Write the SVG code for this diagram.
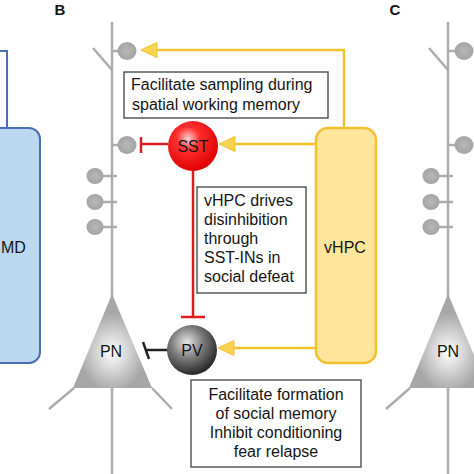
<svg xmlns="http://www.w3.org/2000/svg" width="474" height="474" viewBox="0 0 474 474">
<defs>
<radialGradient id="gSoma" cx="0.5" cy="0.62" r="0.42">
<stop offset="0" stop-color="#ffffff"/><stop offset="1" stop-color="#a6a6a6"/>
</radialGradient>
<radialGradient id="gSST" cx="0.4" cy="0.35" r="0.65">
<stop offset="0" stop-color="#ffd0d0"/><stop offset="0.35" stop-color="#ff3030"/><stop offset="1" stop-color="#e00000"/>
</radialGradient>
<radialGradient id="gPV" cx="0.4" cy="0.35" r="0.65">
<stop offset="0" stop-color="#e6e6e6"/><stop offset="0.5" stop-color="#7a7a7a"/><stop offset="1" stop-color="#2a2a2a"/>
</radialGradient>
<radialGradient id="gSpine" cx="0.5" cy="0.5" r="0.5">
<stop offset="0" stop-color="#b8b8b8"/><stop offset="1" stop-color="#a4a4a4"/>
</radialGradient>
</defs>
<style>
.den{stroke:#acacac;stroke-width:2.5;fill:none}
.sp{fill:url(#gSpine)}
.soma{fill:url(#gSoma)}
.ax{stroke:#f2c12e;stroke-width:2.5;fill:none}
.term{fill:#f8d350;stroke:#f2c12e;stroke-width:1}
.inh{stroke:#dd1c1c;stroke-width:2.5;fill:none}
.box{fill:#ffffff;stroke:#404040;stroke-width:1.3}
.t{font-family:"Liberation Sans",Arial,sans-serif;font-size:16px;fill:#151515}
.lbl{font-family:"Liberation Sans",Arial,sans-serif;font-size:15px;font-weight:bold;fill:#111}
</style>

<g id="panelA">
<path d="M0,51 H7 V128" stroke="#4a6fb5" stroke-width="2" fill="none"/>
<rect x="-20" y="128" width="60" height="235" rx="11" fill="#bcd8f0" stroke="#4a6fb5" stroke-width="2"/>
<text class="t" x="1" y="253">MD</text>
</g>

<text class="lbl" x="60" y="15" text-anchor="middle">B</text>
<text class="lbl" x="395" y="15" text-anchor="middle">C</text>

<g id="pnB">
<line class="den" x1="112" y1="22" x2="112" y2="300"/>
<line class="den" x1="93" y1="48" x2="112" y2="70"/>
<line class="den" x1="112" y1="51" x2="127" y2="51"/>
<line class="den" x1="112" y1="145" x2="127" y2="145"/>
<line class="den" x1="95" y1="176" x2="117" y2="176"/>
<line class="den" x1="95" y1="202" x2="117" y2="202"/>
<line class="den" x1="95" y1="227" x2="117" y2="227"/>
<ellipse class="sp" cx="127" cy="51" rx="9.5" ry="9"/>
<ellipse class="sp" cx="127" cy="145" rx="9.5" ry="9"/>
<ellipse class="sp" cx="95" cy="176" rx="8.5" ry="8"/>
<ellipse class="sp" cx="95" cy="202" rx="8.5" ry="8"/>
<ellipse class="sp" cx="95" cy="227" rx="8.5" ry="8"/>
<line class="den" x1="74" y1="388" x2="49" y2="409"/>
<line class="den" x1="152" y1="388" x2="172" y2="409"/>
<line class="den" x1="112" y1="388" x2="112" y2="474"/>
<polygon class="soma" points="112,294 152,388 73,388"/>
<text class="t" x="111" y="357" text-anchor="middle" font-size="16.5">PN</text>
</g>

<g id="pnC">
<line class="den" x1="448" y1="22" x2="448" y2="300"/>
<line class="den" x1="429" y1="48" x2="448" y2="70"/>
<line class="den" x1="448" y1="51" x2="463" y2="51"/>
<line class="den" x1="448" y1="145" x2="463" y2="145"/>
<line class="den" x1="431" y1="176" x2="453" y2="176"/>
<line class="den" x1="431" y1="202" x2="453" y2="202"/>
<line class="den" x1="431" y1="227" x2="453" y2="227"/>
<ellipse class="sp" cx="464" cy="51" rx="9.5" ry="9"/>
<ellipse class="sp" cx="464" cy="145" rx="9.5" ry="9"/>
<ellipse class="sp" cx="431" cy="176" rx="8.5" ry="8"/>
<ellipse class="sp" cx="431" cy="202" rx="8.5" ry="8"/>
<ellipse class="sp" cx="431" cy="227" rx="8.5" ry="8"/>
<line class="den" x1="410" y1="388" x2="386" y2="409"/>
<line class="den" x1="448" y1="388" x2="448" y2="474"/>
<polygon class="soma" points="448,294 488,388 409,388"/>
<text class="t" x="448" y="357" text-anchor="middle" font-size="16.5">PN</text>
</g>

<g id="connectors">
<path class="ax" d="M157,50 H344 V128"/>
<path class="ax" d="M235,144 H316"/>
<path class="ax" d="M233,348 H316"/>
<polygon class="term" points="141,50 157,42.5 157,57.5"/>
<polygon class="term" points="219,144 235,136.5 235,151.5"/>
<polygon class="term" points="218,348 234,340.5 234,355.5"/>
<line class="inh" x1="141" y1="144" x2="168" y2="144"/>
<line class="inh" x1="141" y1="137" x2="141" y2="153"/>
<line class="inh" x1="193" y1="170" x2="193" y2="317"/>
<line class="inh" x1="181" y1="317" x2="205" y2="317"/>
<line x1="147" y1="350" x2="168" y2="350" stroke="#222" stroke-width="2.5"/>
<line x1="143" y1="342" x2="149" y2="359" stroke="#222" stroke-width="2.5"/>
</g>

<g id="vHPC">
<rect x="316" y="128" width="60" height="235" rx="12" fill="#fde59c" stroke="#f2c12e" stroke-width="2.5"/>
<text class="t" x="345" y="253" text-anchor="middle">vHPC</text>
</g>

<g id="SST">
<circle cx="193" cy="146" r="25" fill="url(#gSST)"/>
<text class="t" x="193" y="152" text-anchor="middle">SST</text>
</g>

<g id="PV">
<circle cx="192" cy="350" r="25" fill="url(#gPV)"/>
<text class="t" x="192" y="356" text-anchor="middle">PV</text>
</g>

<g id="note1">
<rect class="box" x="124" y="72" width="204" height="46"/>
<text class="t" x="131" y="90">Facilitate sampling during</text>
<text class="t" x="132" y="110">spatial working memory</text>
</g>

<g id="note2">
<rect class="box" x="197" y="187" width="109" height="106"/>
<text class="t" x="204" y="206">vHPC drives</text>
<text class="t" x="204" y="225">disinhibition</text>
<text class="t" x="204" y="244">through</text>
<text class="t" x="204" y="263">SST-INs in</text>
<text class="t" x="204" y="282">social defeat</text>
</g>

<g id="note3">
<rect class="box" x="191" y="380" width="170" height="87"/>
<text class="t" x="276" y="400" text-anchor="middle">Facilitate formation</text>
<text class="t" x="276" y="419" text-anchor="middle">of social memory</text>
<text class="t" x="276" y="438" text-anchor="middle">Inhibit conditioning</text>
<text class="t" x="276" y="457" text-anchor="middle">fear relapse</text>
</g>
</svg>
